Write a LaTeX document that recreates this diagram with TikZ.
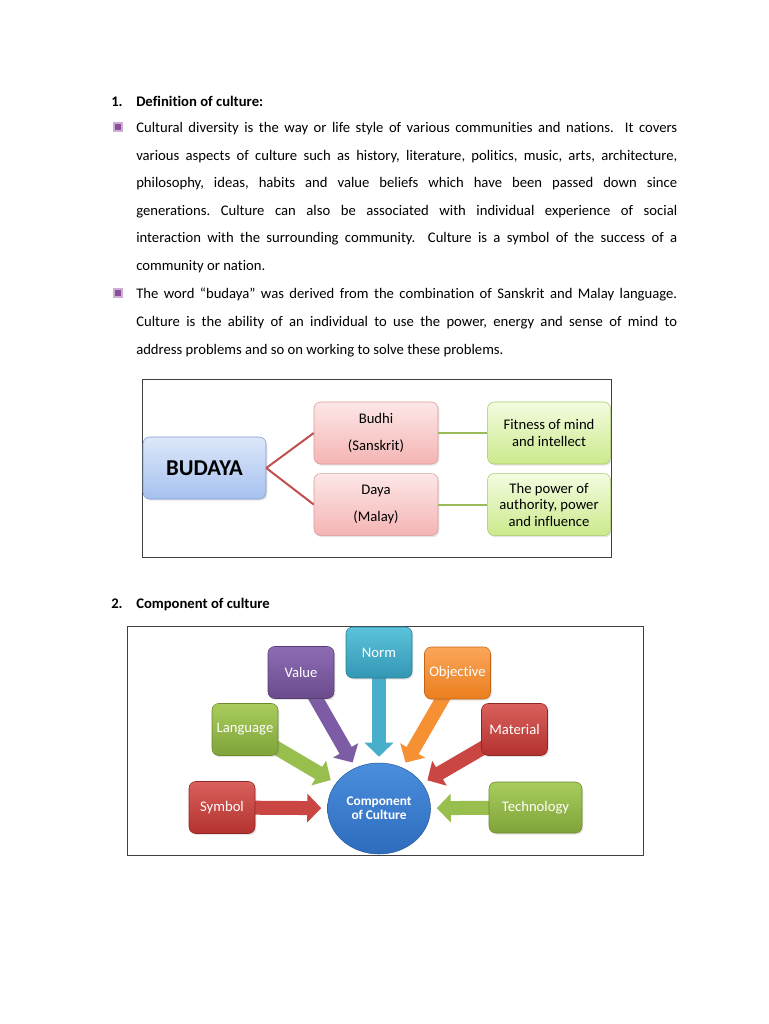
\documentclass[tikz,border=0pt]{standalone}
\usepackage{fontspec}
\setmainfont{Carlito}[Ligatures=CommonOff]
\usetikzlibrary{arrows.meta, positioning, shapes.geometric, backgrounds, shadows}

\definecolor{frameGray}{HTML}{404040}
\definecolor{bulFill}{HTML}{8A4F9A}
\definecolor{bulLine}{HTML}{CDAED6}
% first picture
\definecolor{bdTop}{HTML}{DDE7F9}
\definecolor{bdBot}{HTML}{A6C1EF}
\definecolor{bdLine}{HTML}{7E9CD6}
\definecolor{pkTop}{HTML}{FDE7E7}
\definecolor{pkBot}{HTML}{F5B4B4}
\definecolor{pkLine}{HTML}{D99A9A}
\definecolor{lmTop}{HTML}{F4FCE0}
\definecolor{lmBot}{HTML}{CBEA8C}
\definecolor{lmLine}{HTML}{A8C86A}
\definecolor{linkRed}{HTML}{C0504D}
\definecolor{linkGreen}{HTML}{9BBB59}
% second picture
\definecolor{rdTop}{HTML}{D9605C}
\definecolor{rdBot}{HTML}{B3322F}
\definecolor{rdLine}{HTML}{8E2623}
\definecolor{rdArr}{HTML}{C94643}
\definecolor{grTop}{HTML}{A8CC5C}
\definecolor{grBot}{HTML}{80A33A}
\definecolor{grLine}{HTML}{6A8A2E}
\definecolor{grArr}{HTML}{98BE4E}
\definecolor{puTop}{HTML}{8D6CB5}
\definecolor{puBot}{HTML}{6A4C8C}
\definecolor{puLine}{HTML}{553C73}
\definecolor{puArr}{HTML}{7C5CA4}
\definecolor{tlTop}{HTML}{5CC3DC}
\definecolor{tlBot}{HTML}{3397B3}
\definecolor{tlLine}{HTML}{2A7C93}
\definecolor{tlArr}{HTML}{47AFC9}
\definecolor{orTop}{HTML}{FBA65A}
\definecolor{orBot}{HTML}{EA7E1E}
\definecolor{orLine}{HTML}{C46516}
\definecolor{orArr}{HTML}{F59033}
\definecolor{blTop}{HTML}{4A8EDC}
\definecolor{blBot}{HTML}{2E6CBE}
\definecolor{blLine}{HTML}{285C9E}

\begin{document}
\begin{tikzpicture}[
  x=0.75pt, y=-0.75pt,
  para/.style={anchor=north west, inner sep=0pt, text width=405.75pt, align=justify,
    font=\fontsize{11pt}{20.7pt}\selectfont\frenchspacing},
  head/.style={anchor=base west, inner sep=0pt, font=\fontsize{11pt}{13pt}\selectfont\bfseries},
  bullet/.style={draw=bulLine, fill=bulFill, line width=1.2pt, minimum size=6pt, inner sep=0pt},
  frame/.style={draw=frameGray, line width=0.75pt},
  card/.style={draw=#1Line, top color=#1Top, bottom color=#1Bot, rounded corners=5pt,
    align=center, inner sep=2pt, drop shadow={opacity=0.2, shadow xshift=1pt, shadow yshift=-1.2pt}},
  word/.style={card=#1, minimum width=92.25pt, minimum height=46.5pt},
  chip/.style={card=#1, minimum width=49.5pt, minimum height=39pt, text=white,
    font=\fontsize{11pt}{13pt}\selectfont},
  link/.style={draw=#1, line width=1.5pt},
  blk/.style={line width=10.5pt, draw=#1Arr, -{Triangle[length=10.5pt, width=21pt]}, shorten >=4.5pt}
]
\useasboundingbox (0,0) rectangle (768,1024);
\begin{scope}[on background layer]
  \fill[white] (0,0) rectangle (768,1024);
\end{scope}

% section 1
\node[head] (h1) at (111,106) {\makebox[18.75pt][l]{1.}Definition of culture:};
\node[bullet] (b1) at (118,127) {};
\node[para] (p1) at (136,122) {Cultural diversity is the way or life style of various communities and nations.~ It covers\linebreak
  various aspects of culture such as history, literature, politics, music, arts, architecture,\linebreak
  philosophy, ideas, habits and value beliefs which have been passed down since\linebreak
  generations. Culture can also be associated with individual experience of social\linebreak
  interaction with the surrounding community.~ Culture is a symbol of the success of a\linebreak
  community or nation.};
\node[bullet] (b2) at (118,293) {};
\node[para] (p2) at (136,288) {The word “budaya” was derived from the combination of Sanskrit and Malay language.\linebreak
  Culture is the ability of an individual to use the power, energy and sense of mind to\linebreak
  address problems and so on working to solve these problems.};

\draw[frame] (142,379) rectangle (611,557);
\node[word=bd, font=\fontsize{17pt}{20pt}\selectfont\bfseries] (budaya) at (204.5,468) {BUDAYA};
\node[word=pk, minimum width=93pt, font=\fontsize{11pt}{20pt}\selectfont] (budhi) at (376,433) {Budhi\\(Sanskrit)};
\node[word=pk, minimum width=93pt, font=\fontsize{11pt}{20pt}\selectfont, below=6.75pt of budhi] (daya) {Daya\\(Malay)};
\node[word=lm, font=\fontsize{11pt}{12.75pt}\selectfont, right=36.75pt of budhi] (fitness) {Fitness of mind\\and intellect};
\node[word=lm, font=\fontsize{11pt}{12.4pt}\selectfont, right=36.75pt of daya] (power) {The power of\\authority, power\\and influence};

\draw[link=linkRed] (budaya.east) -- (budhi.west);
\draw[link=linkRed] (budaya.east) -- (daya.west);
\draw[link=linkGreen] (budhi) -- (fitness);
\draw[link=linkGreen] (daya) -- (power);

% section 2
\node[head] (h2) at (111,608) {\makebox[18.75pt][l]{2.}Component of culture};
\draw[frame] (127,626) rectangle (643,855);

\node[ellipse, draw=blLine, top color=blTop, bottom color=blBot, minimum width=77.25pt, minimum height=68.25pt,
  inner sep=0pt, text=white, align=center, font=\fontsize{10pt}{10.5pt}\selectfont\bfseries] (core) at (379,808.5) {Component\\of Culture};
\node[chip=rd] (symbol) at (222,807.5) {Symbol};
\node[chip=gr] (language) at (245,729.5) {Language};
\node[chip=pu] (value) at (301,672.5) {Value};
\node[chip=tl, minimum height=38.25pt] (norm) at (379,652.5) {Norm};
\node[chip=or] (objective) at (457.5,673) {Objective};
\node[chip=rd] (material) at (514.5,729.5) {Material};
\node[chip=gr, minimum width=69.75pt, minimum height=38.25pt] (technology) at (535.5,807.5) {Technology};

\begin{scope}[on background layer]
  \draw[blk=rd] (symbol.center) -- (core);
  \draw[blk=gr] (language.center) -- (core);
  \draw[blk=pu] (value.center) -- (core);
  \draw[blk=tl] (norm.center) -- (core);
  \draw[blk=or] (objective.center) -- (core);
  \draw[blk=rd] (material.center) -- (core);
  \draw[blk=gr] (technology.center) -- (core);
\end{scope}

\end{tikzpicture}
\end{document}
